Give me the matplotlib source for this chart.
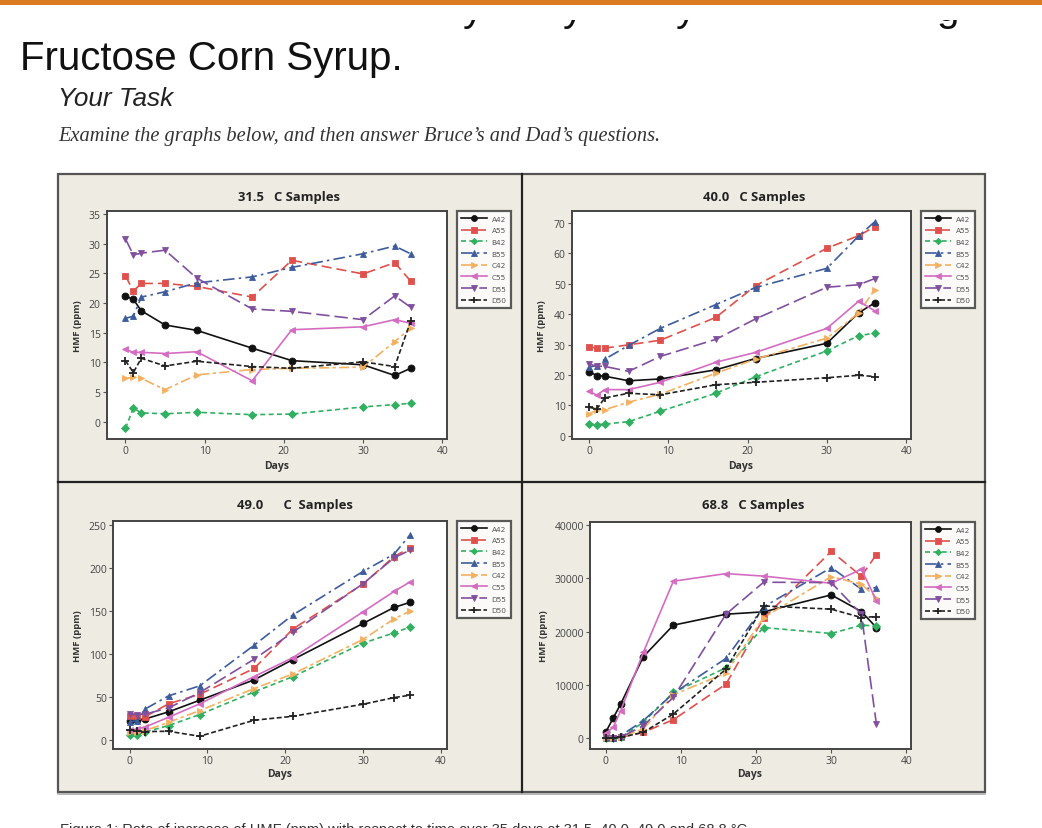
import matplotlib
matplotlib.use("Agg")
import matplotlib.pyplot as plt
from matplotlib.patches import Rectangle

# ---------------- data ----------------
days = [0, 1, 2, 5, 9, 16, 21, 30, 34, 36]
series_names = ["A42", "A55", "B42", "B55", "C42", "C55", "D55", "D50"]

# 31.5 C
A42_315 = [21.2, 20.6, 18.7, 16.3, 15.4, 12.4, 10.3, 9.6, 7.8, 9.0]
A55_315 = [24.6, 22.0, 23.3, 23.3, 22.8, 21.0, 27.2, 24.9, 26.8, 23.7]
B42_315 = [-1.1, 2.3, 1.5, 1.35, 1.6, 1.2, 1.3, 2.5, 2.9, 3.1]
B55_315 = [17.4, 17.8, 21.0, 21.9, 23.4, 24.4, 26.0, 28.3, 29.6, 28.3]
C42_315 = [7.3, 7.5, 7.3, 5.4, 7.9, 8.8, 9.0, 9.2, 13.5, 15.8]
C55_315 = [12.2, 11.7, 11.7, 11.5, 11.8, 6.9, 15.5, 16.0, 17.2, 16.6]
D55_315 = [30.8, 28.1, 28.4, 28.9, 24.2, 19.0, 18.6, 17.2, 21.2, 19.3]
D50_315 = [10.3, 8.3, 10.7, 9.4, 10.2, 9.3, 9.0, 10.1, 9.3, 16.9]

# 40.0 C
A42_400 = [21.1, 19.8, 19.6, 18.1, 18.7, 21.7, 25.4, 30.4, 40.4, 43.6]
A55_400 = [29.2, 28.8, 28.8, 29.9, 31.4, 38.9, 49.3, 61.6, 65.7, 68.6]
B42_400 = [3.9, 3.7, 3.9, 4.7, 8.1, 14.0, 19.4, 27.9, 32.9, 33.7]
B55_400 = [22.6, 23.1, 25.2, 29.7, 35.3, 43.1, 48.7, 55.0, 65.6, 70.2]
C42_400 = [7.2, 8.5, 8.6, 11.1, 13.7, 20.6, 25.2, 32.1, 40.3, 47.9]
C55_400 = [14.7, 13.4, 15.2, 15.2, 17.6, 24.2, 27.4, 35.3, 44.2, 41.1]
D55_400 = [23.6, 22.9, 22.8, 21.2, 26.1, 31.7, 38.4, 48.8, 49.6, 51.6]
D50_400 = [9.4, 8.9, 12.5, 14.0, 13.5, 16.8, 17.6, 19.1, 19.9, 19.5]

# 49.0 C
A42_490 = [21.7, 23.0, 24.4, 32.6, 46.1, 69.8, 93.4, 135.3, 153.9, 159.7]
A55_490 = [28.0, 28.0, 27.0, 42.0, 53.0, 83.0, 129.0, 181.0, 213.0, 223.0]
B42_490 = [5.8, 6.2, 9.3, 16.7, 29.5, 55.8, 73.6, 112.4, 124.4, 131.0]
B55_490 = [21.0, 22.5, 36.0, 51.2, 62.8, 110.0, 145.3, 195.7, 215.9, 237.6]
C42_490 = [8.9, 8.9, 10.9, 20.5, 34.1, 59.7, 76.7, 116.7, 140.7, 149.6]
C55_490 = [11.0, 13.0, 15.0, 26.4, 41.9, 73.6, 95.7, 148.8, 172.5, 183.3]
D55_490 = [30.0, 29.5, 30.0, 37.2, 55.0, 93.8, 125.2, 181.4, 211.6, 220.2]
D50_490 = [11.6, 10.9, 9.7, 10.1, 4.3, 22.9, 27.5, 41.5, 49.2, 51.9]

# 68.8 C
A42_688 = [1060, 3750, 6375, 15250, 21190, 23250, 23690, 26875, 23750, 20750]
A55_688 = [125, 0, 125, 1060, 3440, 10125, 22500, 35060, 30375, 34440]
B42_688 = [0, 0, 125, 2940, 8560, 13190, 20750, 19625, 21190, 21060]
B55_688 = [0, 0, 440, 3250, 8375, 14940, 24625, 32000, 27940, 28250]
C42_688 = [0, 0, 125, 1690, 8125, 12190, 22625, 30310, 28875, 26375]
C55_688 = [875, 2000, 5125, 16060, 29440, 30875, 30400, 29060, 31690, 25810]
D55_688 = [0, 0, 125, 2310, 7625, 23250, 29250, 29190, 23250, 2625]
D50_688 = [0, 0, 125, 1060, 4500, 12940, 24810, 24190, 22625, 22810]

panel_titles = ["31.5   C Samples", "40.0   C Samples", "49.0      C  Samples", "68.8   C Samples"]

# ---------------- styles ----------------
styles = {
    "A42": dict(color="#111111", ls="-", marker="o", ms=5.0),
    "A55": dict(color="#e0504c", ls=(0, (6, 3)), marker="s", ms=4.3),
    "B42": dict(color="#30b060", ls=(0, (3, 2)), marker="D", ms=3.8),
    "B55": dict(color="#3d5c9c", ls=(0, (7, 2.5, 1.5, 2.5)), marker="^", ms=4.6),
    "C42": dict(color="#f3b060", ls=(0, (6, 2, 2, 2)), marker=">", ms=4.6),
    "C55": dict(color="#d46cc2", ls="-", marker="<", ms=4.6),
    "D55": dict(color="#80509e", ls=(0, (8, 3)), marker="v", ms=4.6),
    "D50": dict(color="#222222", ls=(0, (3, 1.5)), marker="+", ms=5.5),
}

W, H = 1042, 829
fig = plt.figure(figsize=(W / 100, H / 100), dpi=100)
fig.patch.set_facecolor("white")

def px_rect(l, t, r, b):
    return [l / W, 1 - b / H, (r - l) / W, (b - t) / H]

# background axes in pixel coordinates
bg = fig.add_axes([0, 0, 1, 1], zorder=0)
bg.set_xlim(0, W)
bg.set_ylim(H, 0)
bg.axis("off")

# descenders of the previous (cut-off) heading line
for xx, ch in [(473, "y"), (573, "y"), (686, "y"), (947, "g")]:
    bg.text(xx, 21, ch, fontsize=29, family="Liberation Sans",
            ha="center", va="baseline", color="#111111", zorder=1)
# page area above it is hidden (the screenshot cuts that line)
bg.add_patch(Rectangle((0, 0), W, 21, facecolor="white", edgecolor="none", zorder=2))
# orange rule
bg.add_patch(Rectangle((0, 0), W, 5.5, facecolor="#dc7a22", edgecolor="none", zorder=3))

bg.text(20, 70, "Fructose Corn Syrup.", fontsize=29, family="Liberation Sans",
        ha="left", va="baseline", color="#111111")
bg.text(58, 106, "Your Task", fontsize=18.8, family="Liberation Sans",
        style="italic", ha="left", va="baseline", color="#222222")
bg.text(58, 141, "Examine the graphs below, and then answer Bruce\u2019s and Dad\u2019s questions.",
        fontsize=14.7, family="Liberation Serif", style="italic", ha="left",
        va="baseline", color="#333333")

# panel frame
bg.add_patch(Rectangle((58, 175), 985 - 58, 793 - 175, facecolor="#eeebe2",
                       edgecolor="#555555", lw=1.6))
bg.plot([58, 985], [795, 795], color="#aaaaaa", lw=1.2)
bg.plot([522, 522], [175, 793], color="#222222", lw=1.6)
bg.plot([58, 985], [483, 483], color="#222222", lw=1.6)

# caption (cut off by page edge)
bg.text(60, 823, "Figure 1: Rate of increase of HMF (ppm) with respect to time over 35 days at 31.5, 40.0, 49.0 and 68.8 \u00b0C",
        fontsize=10.5, family="Liberation Sans", ha="left", va="top", color="#333333")

panels = [
    dict(ax=(107, 212, 447, 440), leg=(457, 212), xlim=(-2.33, 40.6), ylim=(-2.9, 35.5),
         yticks=range(0, 36, 5), title=(289, 197), days_lbl=(277, 466), ylab=(77, 326),
         data=[A42_315, A55_315, B42_315, B55_315, C42_315, C55_315, D55_315, D50_315]),
    dict(ax=(572, 212, 911, 440), leg=(921, 212), xlim=(-2.14, 40.6), ylim=(-1.0, 73.8),
         yticks=range(0, 71, 10), title=(754, 197), days_lbl=(741, 466), ylab=(541, 326),
         data=[A42_400, A55_400, B42_400, B55_400, C42_400, C55_400, D55_400, D50_400]),
    dict(ax=(113, 522, 447, 750), leg=(457, 522), xlim=(-2.14, 40.8), ylim=(-10.5, 254.3),
         yticks=range(0, 251, 50), title=(295, 506), days_lbl=(280, 775), ylab=(77, 636),
         data=[A42_490, A55_490, B42_490, B55_490, C42_490, C55_490, D55_490, D50_490]),
    dict(ax=(590, 523, 911, 750), leg=(921, 523), xlim=(-2.08, 40.6), ylim=(-2062, 40562),
         yticks=range(0, 40001, 10000), title=(753, 506), days_lbl=(750, 775), ylab=(543, 636),
         data=[A42_688, A55_688, B42_688, B55_688, C42_688, C55_688, D55_688, D50_688]),
]

for p, ttl in zip(panels, panel_titles):
    ax = fig.add_axes(px_rect(*p["ax"]), zorder=2)
    ax.set_facecolor("white")
    handles = []
    for name, vals in zip(series_names, p["data"]):
        st = styles[name]
        mew = 1.3 if st["marker"] == "+" else 0.6
        ln, = ax.plot(days, vals, color=st["color"], ls=st["ls"], lw=1.2,
                      marker=st["marker"], ms=st["ms"], mec=st["color"],
                      mfc=st["color"], mew=mew, label=name)
        handles.append(ln)
    ax.set_xlim(*p["xlim"])
    ax.set_ylim(*p["ylim"])
    ax.set_xticks([0, 10, 20, 30, 40])
    ax.set_yticks(list(p["yticks"]))
    for s in ax.spines.values():
        s.set_color("#444444")
        s.set_linewidth(1.4)
    ax.tick_params(direction="out", length=3, width=0.8, color="#555555",
                   labelsize=7.5, labelcolor="#444444", pad=1.5)
    for lab in ax.get_xticklabels() + ax.get_yticklabels():
        lab.set_family("Open Sans")

    leg = ax.legend(handles=handles, loc="upper left",
                    bbox_to_anchor=(p["leg"][0] / W, 1 - p["leg"][1] / H),
                    bbox_transform=fig.transFigure, borderaxespad=0,
                    fontsize=5.3, frameon=True, fancybox=False, handlelength=3.5,
                    handletextpad=0.6, labelspacing=0.75, borderpad=0.6,
                    markerscale=0.85)
    leg.get_frame().set_edgecolor("#333333")
    leg.get_frame().set_linewidth(1.6)
    leg.get_frame().set_facecolor("white")
    for t in leg.get_texts():
        t.set_color("#555555")

    bg.text(p["title"][0], p["title"][1], ttl, fontsize=9.4, fontweight="bold",
            family="Open Sans", ha="center", va="center", color="#222222")
    bg.text(p["days_lbl"][0], p["days_lbl"][1], "Days", fontsize=7.5, fontweight="bold",
            family="Open Sans", ha="center", va="center", color="#333333")
    bg.text(p["ylab"][0], p["ylab"][1], "HMF (ppm)", fontsize=6.8, fontweight="bold",
            family="Open Sans", ha="center", va="center", rotation=90, color="#333333")

fig.savefig("out.png", dpi=100)
